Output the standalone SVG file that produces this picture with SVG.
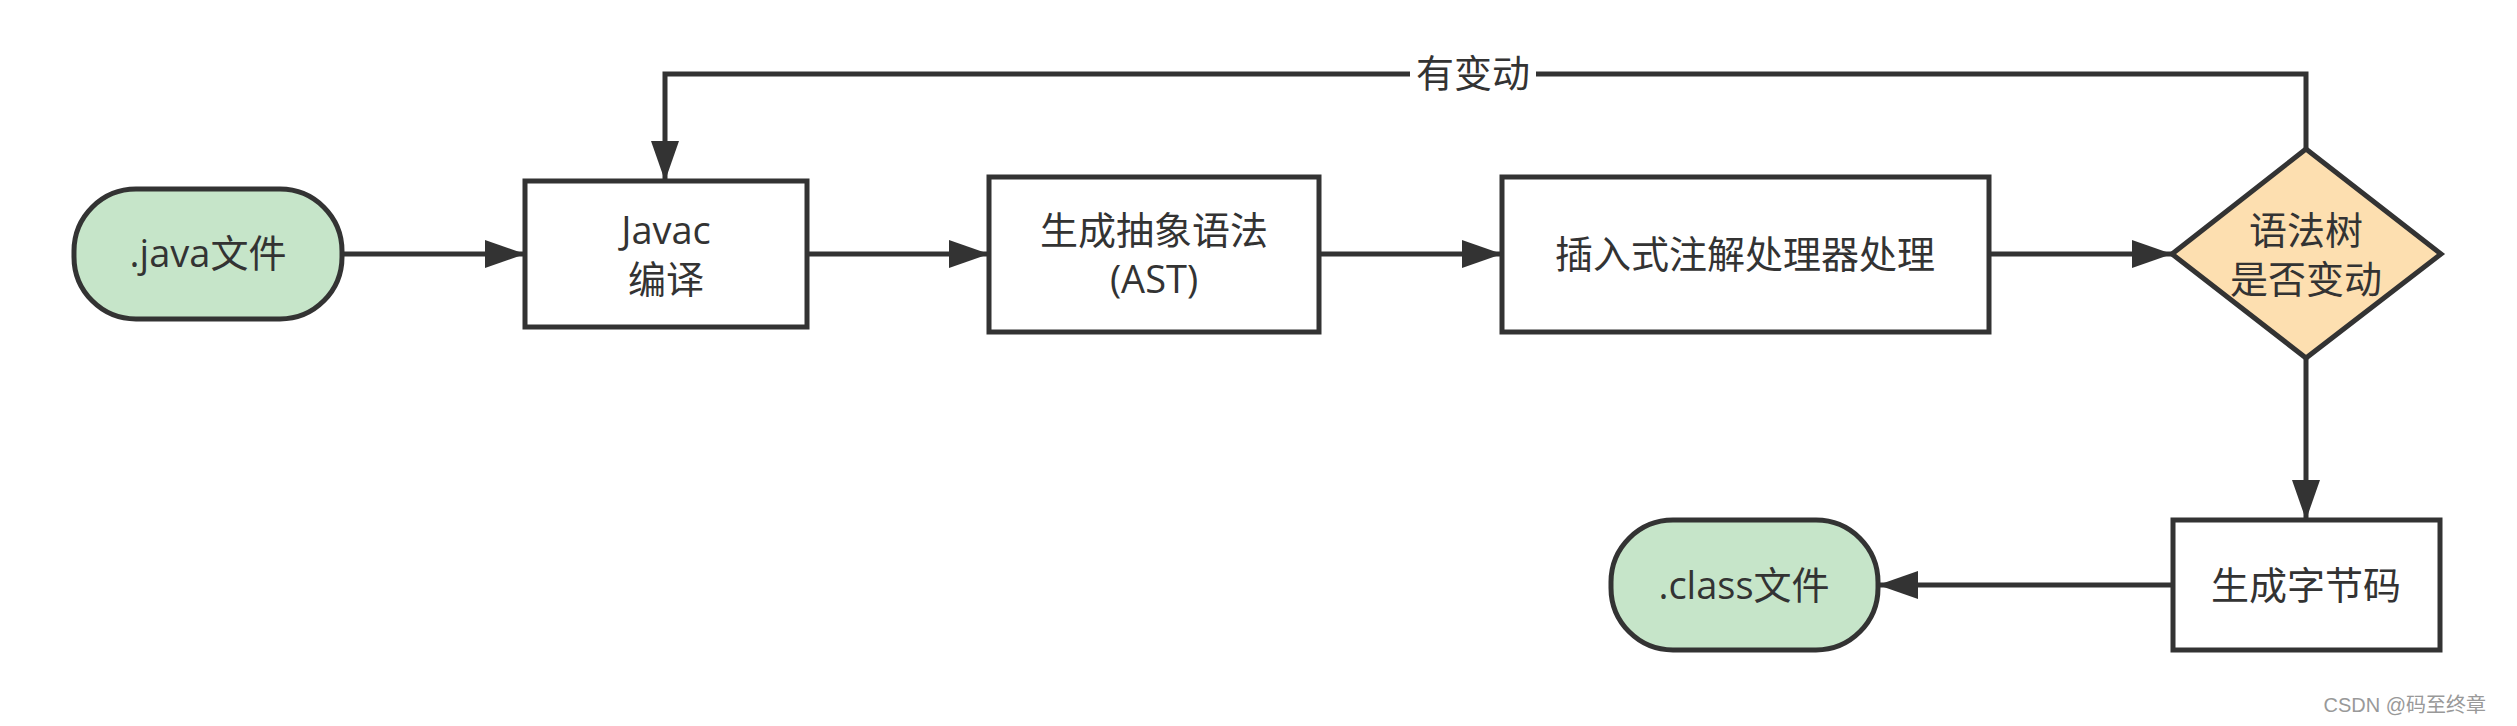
<svg xmlns="http://www.w3.org/2000/svg" width="2517" height="726" viewBox="0 0 2517 726">
<defs>
<style>
.n{stroke:#333;stroke-width:5;}
.box{fill:#fff;}
.term{fill:#c6e5c9;}
.dec{fill:#fddfb0;}
.t{font-family:"Open Sans","Noto Sans CJK SC",sans-serif;font-size:38px;fill:#333;text-anchor:middle;}
.e{stroke:#333;stroke-width:5;fill:none;}
</style>
<marker id="a" viewBox="0 0 10 10" refX="10" refY="5" markerWidth="7" markerHeight="7" markerUnits="userSpaceOnUse" orient="auto" style="overflow:visible">
<path d="M0,0 L10,5 L0,10 z" fill="#333" transform="scale(4)" transform-origin="10 5"/>
</marker>
<marker id="m" viewBox="0 0 40 28" refX="40" refY="14" markerWidth="40" markerHeight="28" markerUnits="userSpaceOnUse" orient="auto">
<path d="M0,0 L40,14 L0,28 z" fill="#333"/>
</marker>
</defs>
<rect width="2517" height="726" fill="#fff"/>
<g id="connectors">
<path class="e" d="M342,254 H525" marker-end="url(#m)"/>
<path class="e" d="M807,254 H989" marker-end="url(#m)"/>
<path class="e" d="M1319,254 H1502" marker-end="url(#m)"/>
<path class="e" d="M1989,254 H2172" marker-end="url(#m)"/>
<path class="e" d="M2306,149 V74 H665 V181" marker-end="url(#m)"/>
<path class="e" d="M2306,358 V520" marker-end="url(#m)"/>
<path class="e" d="M2173,585 H1878" marker-end="url(#m)"/>
<rect x="1410" y="52" width="126" height="44" fill="#fff"/>
<text class="t" x="1473" y="87">有变动</text>
</g>
<g id="java"><rect class="n term" x="74" y="189" width="268" height="130" rx="62" ry="62"/><text class="t" x="208" y="267">.java文件</text></g>
<g id="javac"><rect class="n box" x="525" y="181" width="282" height="146"/><text class="t" x="666" y="244">Javac</text><text class="t" x="666" y="293">编译</text></g>
<g id="ast"><rect class="n box" x="989" y="177" width="330" height="155"/><text class="t" x="1154" y="244">生成抽象语法</text><text class="t" x="1154" y="293">(AST)</text></g>
<g id="apt"><rect class="n box" x="1502" y="177" width="487" height="155"/><text class="t" x="1745" y="268">插入式注解处理器处理</text></g>
<g id="dec"><polygon class="n dec" points="2306,149 2441,254 2306,358 2172,254"/><text class="t" x="2306" y="244">语法树</text><text class="t" x="2306" y="293">是否变动</text></g>
<g id="gen"><rect class="n box" x="2173" y="520" width="267" height="130"/><text class="t" x="2306" y="599">生成字节码</text></g>
<g id="cls"><rect class="n term" x="1611" y="520" width="267" height="130" rx="62" ry="62"/><text class="t" x="1744" y="599">.class文件</text></g>
<text x="2486" y="712" font-family="'Liberation Sans','Noto Sans CJK SC',sans-serif" font-size="20" fill="#999" text-anchor="end">CSDN @码至终章</text>
</svg>
